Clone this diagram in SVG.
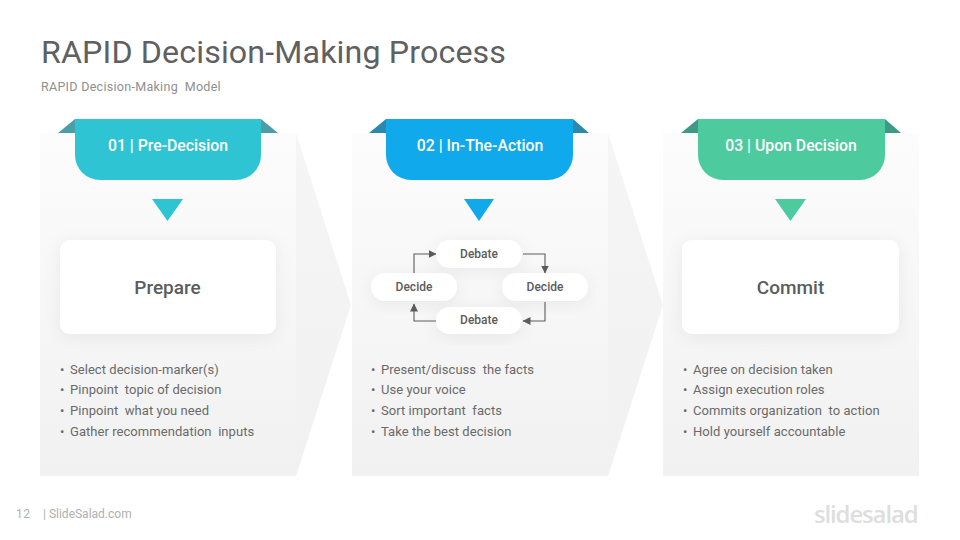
<svg xmlns="http://www.w3.org/2000/svg" width="960" height="540" viewBox="0 0 960 540">
<style>
text{font-family:Roboto,"Liberation Sans",sans-serif}
.tb{font-size:15.8px;font-weight:500;fill:#fff;text-anchor:middle}
.card{font-size:19px;font-weight:500;fill:#5c5c5c;text-anchor:middle}
.pill{font-size:12px;font-weight:500;fill:#5c5c5c;text-anchor:middle}
.li{font-size:13px;fill:#6a6a6a;letter-spacing:.05px}
.conn{fill:none;stroke:#5c5c5c;stroke-width:1.1}
</style>
<defs>
<linearGradient id="g" x1="0" y1="0" x2="0" y2="1"><stop offset="0" stop-color="#fcfcfc"/><stop offset="1" stop-color="#f1f1f1"/></linearGradient>
<linearGradient id="t" x1="0" y1="0" x2="0" y2="1"><stop offset="0" stop-color="#f5f5f5"/><stop offset="1" stop-color="#f1f1f1"/></linearGradient>
<filter id="s" x="-20%" y="-30%" width="140%" height="170%"><feDropShadow dx="0" dy="3" stdDeviation="8" flood-color="#000" flood-opacity=".06"/></filter>
<marker id="a" markerWidth="9" markerHeight="9" refX="7.500" refY="4" orient="auto" markerUnits="userSpaceOnUse"><path d="M0 0L8 4L0 8Z" fill="#5c5c5c"/></marker>
</defs>
<rect width="960" height="540" fill="#fff"/>
<text id="title" x="41" y="63" font-size="32.2" fill="#606060" style="letter-spacing:.13px">RAPID Decision-Making Process</text>
<text id="subtitle" x="41" y="91" font-size="12.5" fill="#8f8f8f" style="letter-spacing:.29px" xml:space="preserve">RAPID Decision-Making  Model</text>

<g id="panel1">
<path d="M296 133L351 305L296 476Z" fill="url(#t)"/>
<rect x="40" y="133" width="256" height="343" fill="url(#g)"/>
<path d="M58 133L75 119V133Z M278 133L261 119V133Z" fill="#4a9ea7"/>
<path d="M75 119H261V155A25 25 0 0 1 236 180H100A25 25 0 0 1 75 155Z" fill="#2fc4d3"/>
<text class="tb" x="168" y="151">01 | Pre-Decision</text>
<path d="M152 199H183L167.500 221Z" fill="#2fc4d3"/>
<rect x="60" y="240" width="216" height="94" rx="10" fill="#fff" filter="url(#s)"/>
<text class="card" x="167.500" y="294">Prepare</text>
<text class="li" xml:space="preserve"><tspan x="60" y="374">•</tspan><tspan x="70" y="374">Select decision-marker(s)</tspan><tspan x="60" y="394">•</tspan><tspan x="70" y="394">Pinpoint  topic of decision</tspan><tspan x="60" y="415">•</tspan><tspan x="70" y="415">Pinpoint  what you need</tspan><tspan x="60" y="436">•</tspan><tspan x="70" y="436">Gather recommendation  inputs</tspan></text>
</g>

<g id="panel2">
<path d="M608 133L663 305L608 476Z" fill="url(#t)"/>
<rect x="352" y="133" width="256" height="343" fill="url(#g)"/>
<path d="M369 133L386 119V133Z M589 133L573 119V133Z" fill="#2b88ae"/>
<path d="M386 119H573V155A25 25 0 0 1 548 180H411A25 25 0 0 1 386 155Z" fill="#10a9eb"/>
<text class="tb" x="480" y="151">02 | In-The-Action</text>
<path d="M464 199H494L479 221Z" fill="#10a9eb"/>
<text class="li" xml:space="preserve"><tspan x="371" y="374">•</tspan><tspan x="381" y="374">Present/discuss  the facts</tspan><tspan x="371" y="394">•</tspan><tspan x="381" y="394">Use your voice</tspan><tspan x="371" y="415">•</tspan><tspan x="381" y="415">Sort important  facts</tspan><tspan x="371" y="436">•</tspan><tspan x="381" y="436">Take the best decision</tspan></text>
</g>

<g id="connectors">
<path class="conn" d="M414 273V254H436" marker-end="url(#a)"/>
<path class="conn" d="M523 254H545V273" marker-end="url(#a)"/>
<path class="conn" d="M545 302V321H523" marker-end="url(#a)"/>
<path class="conn" d="M436 321H414V304" marker-end="url(#a)"/>
</g>
<g id="debate-top"><rect x="436" y="240" width="86" height="28" rx="14" fill="#fff" filter="url(#s)"/><text class="pill" x="479" y="258">Debate</text></g>
<g id="decide-left"><rect x="371" y="273" width="86" height="28" rx="14" fill="#fff" filter="url(#s)"/><text class="pill" x="414" y="291">Decide</text></g>
<g id="decide-right"><rect x="502" y="273" width="86" height="28" rx="14" fill="#fff" filter="url(#s)"/><text class="pill" x="545" y="291">Decide</text></g>
<g id="debate-bottom"><rect x="436" y="307" width="86" height="27" rx="13.500" fill="#fff" filter="url(#s)"/><text class="pill" x="479" y="324">Debate</text></g>

<g id="panel3">
<rect x="663" y="133" width="256" height="343" fill="url(#g)"/>
<path d="M681 133L698 119V133Z M901 133L885 119V133Z" fill="#3d9a84"/>
<path d="M698 119H885V155A25 25 0 0 1 860 180H723A25 25 0 0 1 698 155Z" fill="#4dcb9f"/>
<text class="tb" x="791" y="151">03 | Upon Decision</text>
<path d="M775 199H806L790.500 221Z" fill="#4dcb9f"/>
<rect x="682" y="240" width="217" height="94" rx="10" fill="#fff" filter="url(#s)"/>
<text class="card" x="790.500" y="294">Commit</text>
<text class="li" xml:space="preserve"><tspan x="683" y="374">•</tspan><tspan x="693" y="374">Agree on decision taken</tspan><tspan x="683" y="394">•</tspan><tspan x="693" y="394">Assign execution roles</tspan><tspan x="683" y="415">•</tspan><tspan x="693" y="415">Commits organization  to action</tspan><tspan x="683" y="436">•</tspan><tspan x="693" y="436">Hold yourself accountable</tspan></text>
</g>

<g id="footer">
<text x="16" y="518" font-size="12" fill="#b0b0b0" style="letter-spacing:.4px">12</text>
<text x="43" y="518" font-size="12" fill="#b0b0b0">| SlideSalad.com</text>
<text x="814" y="523" font-size="24" font-weight="600" fill="#dedede" style="font-family:'Open Sans','Liberation Sans',sans-serif;letter-spacing:-1.15px">slidesalad</text>
</g>
</svg>
